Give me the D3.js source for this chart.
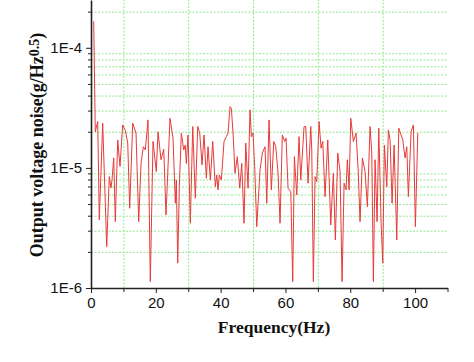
<!DOCTYPE html>
<html>
<head>
<meta charset="utf-8">
<script src="https://cdn.jsdelivr.net/npm/d3@7"></script>
<style>
  body { margin: 0; background: #fff; }
  svg { display: block; }
  .tick text { font-family: "Liberation Sans", Arial, sans-serif; font-size: 15px; fill: #111; }
  .axis path, .axis line { stroke: #222; }
  .grid line { stroke: #8ee88e; stroke-dasharray: 2,1.5; }
  .grid path { display: none; }
  .title { font-family: "Liberation Serif", "Times New Roman", serif; font-weight: bold; fill: #111; }
</style>
</head>
<body>
<div id="chart"></div>
<script>
// frequency (Hz) and output noise (g/Hz^0.5)
var freqHz = [0.83,1.33,2.07,2.56,3.61,4.85,5.65,6.17,6.48,7.01,7.50,8.24,8.95,9.78,10.59,11.33,11.94,12.87,13.89,14.72,
  15.43,16.14,16.76,17.59,18.30,19.14,20.15,20.68,21.60,22.44,23.15,24.38,25.31,26.02,26.33,26.76,27.25,27.87,28.61,29.10,
  29.41,29.94,30.65,31.39,32.19,32.93,33.55,34.26,34.88,35.59,36.11,36.82,37.56,38.36,38.80,39.20,39.60,40.22,41.05,41.76,
  42.28,42.90,43.30,43.83,44.44,45.15,45.90,46.51,47.22,47.75,48.46,49.07,49.48,50.00,50.52,51.14,52.16,52.87,53.70,54.23,
  54.94,55.65,56.39,57.01,57.72,58.33,59.04,59.78,60.19,60.80,61.64,62.25,62.75,63.49,64.20,64.72,65.74,66.27,66.98,67.81,
  68.12,68.61,69.14,69.66,70.37,70.99,71.51,72.22,73.06,73.98,74.78,75.40,76.14,76.85,77.47,78.09,78.70,79.10,79.63,80.15,
  80.96,81.79,82.41,83.02,83.73,84.57,85.28,86.11,86.64,87.13,87.65,88.27,88.80,89.51,90.03,90.52,91.27,91.76,92.28,92.90,
  93.52,94.35,94.97,95.68,96.20,96.91,97.44,97.93,98.77,99.48,100.09,100.83];

var noise = [1.66e-4,2.0e-5,2.43e-5,3.69e-6,2.36e-5,2.21e-6,8.46e-6,6.81e-6,7.94e-6,1.21e-5,3.57e-6,1.71e-5,1.03e-5,2.28e-5,2.05e-5,1.61e-5,4.61e-6,2.36e-5,1.95e-5,3.57e-6,
  1.09e-5,1.50e-5,1.41e-5,2.51e-5,1.13e-6,1.66e-5,9.31e-6,2.0e-5,1.17e-5,1.43e-5,4.06e-6,2.59e-5,1.77e-5,5.08e-6,7.94e-6,1.61e-6,6.98e-6,1.95e-5,1.41e-5,1.55e-5,
  1.09e-5,1.88e-5,3.46e-6,2.21e-5,5.59e-6,2.21e-5,1.95e-5,1.06e-5,1.88e-5,8.20e-6,1.50e-5,7.94e-6,1.66e-5,6.98e-6,8.74e-6,6.56e-6,8.74e-6,7.94e-6,1.66e-5,1.82e-5,
  1.95e-5,3.24e-5,3.14e-5,1.95e-5,9.03e-6,1.24e-5,6.77e-6,1.09e-5,3.46e-6,1.61e-5,6.77e-6,3.04e-5,1.82e-5,1.95e-5,9.94e-6,3.24e-6,9.62e-6,1.33e-5,1.50e-5,5.08e-6,
  2.51e-5,6.56e-6,1.66e-5,1.50e-5,9.03e-6,3.46e-6,1.88e-5,1.66e-5,1.77e-5,6.77e-6,6.35e-6,1.13e-6,1.24e-5,5.96e-6,1.82e-5,7.94e-6,2.21e-5,2.21e-5,7.46e-6,2.21e-5,
  1.41e-5,1.13e-6,8.46e-6,7.69e-6,2.43e-5,1.46e-5,1.66e-5,5.77e-6,1.71e-5,3.35e-6,9.03e-6,2.51e-6,1.33e-5,9.31e-6,1.13e-6,7.46e-6,6.56e-6,1.17e-5,6.56e-6,2.59e-5,
  1.66e-5,1.95e-5,9.94e-6,3.57e-6,1.21e-5,9.31e-6,4.76e-6,2.21e-5,1.33e-5,1.13e-6,1.17e-5,3.57e-6,2.14e-5,3.46e-6,1.61e-6,1.55e-5,6.98e-6,2.07e-5,1.71e-5,5.08e-6,
  1.55e-5,2.51e-6,2.14e-5,1.88e-5,1.71e-5,1.21e-5,1.50e-5,5.77e-6,2.0e-5,2.28e-5,3.24e-6,1.95e-5];

var xMajor = [0, 20, 40, 60, 80, 100];
var xMinor = [10, 30, 50, 70, 90, 110];
var yMajor = [1e-6, 1e-5, 1e-4];
var yMajorLabels = ["1E-6", "1E-5", "1E-4"];
var yMinor = [2e-6,3e-6,4e-6,5e-6,6e-6,7e-6,8e-6,9e-6,
              2e-5,3e-5,4e-5,5e-5,6e-5,7e-5,8e-5,9e-5, 2e-4];

var W = 474, H = 362;
var margin = {left: 91, right: 26.5, top: 0, bottom: 74};
var w = W - margin.left - margin.right, h = H - margin.top - margin.bottom;

var svg = d3.select("#chart").append("svg")
  .attr("width", W)
  .attr("height", H);

var g = svg.append("g")
  .attr("transform", "translate(" + margin.left + "," + margin.top + ")");

var x = d3.scaleLinear().domain([0, 110]).range([0, w]);
var y = d3.scaleLog().domain([1e-6, 2.5e-4]).range([h, 0]);

// grid: minor values only
g.append("g").attr("class", "grid")
  .call(d3.axisLeft(y).tickValues(yMinor).tickSize(-w).tickFormat(""));
g.append("g").attr("class", "grid")
  .attr("transform", "translate(0," + h + ")")
  .call(d3.axisBottom(x).tickValues(xMinor.slice(0, 5)).tickSize(h).tickFormat(""))
  .selectAll("line").attr("y2", -h);

// data line
var line = d3.line()
  .x(function(d, i){ return x(freqHz[i]); })
  .y(function(d){ return y(d); });

g.append("path")
  .datum(noise)
  .attr("fill", "none")
  .attr("stroke", "#e83a3a")
  .attr("stroke-width", 1)
  .attr("stroke-linejoin", "round")
  .attr("d", line);

// axes
g.append("g").attr("class", "axis")
  .attr("transform", "translate(0," + h + ")")
  .call(d3.axisBottom(x).tickValues(xMajor).tickSize(5).tickSizeOuter(0).tickPadding(4))
  .select(".domain").attr("stroke-width", 1.6);
g.append("g").attr("class", "axis")
  .attr("transform", "translate(0," + h + ")")
  .call(d3.axisBottom(x).tickValues(xMinor).tickSize(4).tickFormat(""))
  .select(".domain").remove();

g.append("g").attr("class", "axis")
  .call(d3.axisLeft(y).tickValues(yMajor).tickSize(5).tickSizeOuter(0).tickPadding(4)
    .tickFormat(function(d, i){ return yMajorLabels[i]; }))
  .select(".domain").attr("stroke-width", 1.6);
g.append("g").attr("class", "axis")
  .call(d3.axisLeft(y).tickValues(yMinor).tickSize(3).tickFormat(""))
  .select(".domain").remove();

// titles
svg.append("text").attr("class", "title")
  .attr("x", 274)
  .attr("y", 333)
  .attr("text-anchor", "middle")
  .attr("font-size", 17.5)
  .text("Frequency(Hz)");

var yt = svg.append("text").attr("class", "title")
  .attr("transform", "translate(43,145) rotate(-90)")
  .attr("text-anchor", "middle")
  .attr("font-size", 18);
yt.append("tspan").text("Output voltage noise(g/Hz");
yt.append("tspan").attr("font-size", 14).attr("dy", -4).text("0.5");
yt.append("tspan").attr("dy", 4).text(")");
</script>
</body>
</html>
